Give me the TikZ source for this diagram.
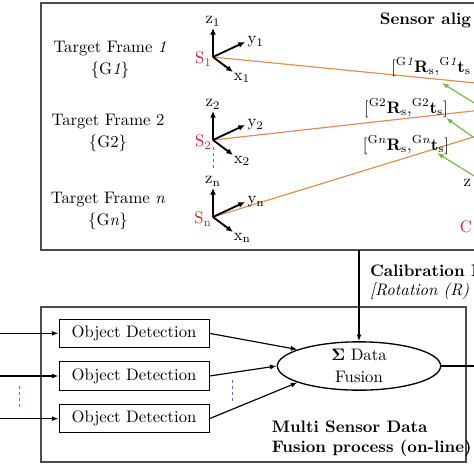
\documentclass[tikz,border=0pt]{standalone}
\usetikzlibrary{arrows.meta,shapes.geometric,matrix,positioning}
\definecolor{rayorange}{RGB}{228,140,80}
\definecolor{posegreen}{RGB}{120,180,70}
\definecolor{senred}{RGB}{205,35,55}
\definecolor{gapblue}{RGB}{80,120,190}

\begin{document}
\begin{tikzpicture}[
x=0.6pt, y=-0.6pt,
font=\fontsize{10}{13.5}\selectfont,
frame/.style={draw=black!70, line width=0.9pt},
detect/.style={
    matrix of nodes,
    nodes={draw=black, line width=0.6pt, minimum width=90pt, minimum height=17pt, inner sep=1pt, anchor=center},
    row sep=8pt,
},
fusion/.style={ellipse, draw=black, line width=0.8pt, minimum width=98pt, minimum height=29pt, inner sep=0pt, align=center},
axis/.style={-{Latex[length=4pt,width=3.5pt]}, line width=1.1pt},
feed/.style={-{Latex[length=4pt,width=3pt]}, line width=0.7pt},
ray/.style={rayorange, line width=0.7pt},
pose/.style={posegreen, line width=0.7pt, -{Latex[length=4pt,width=3pt]}},
gap/.style={gapblue, line width=0.6pt, dash pattern=on 2pt off 1.5pt},
]
\useasboundingbox (0,0) rectangle (474,474);
\clip (0,0) rectangle (474,474);

\draw[frame] (41,3) rectangle (520,250);
\draw[frame] (41,307) rectangle (466,462);

\node[align=center] (tf1) at (110,60) {Target Frame \textit{1}\\\{G\textit{1}\}};
\node[align=center] (tf2) at (108,133) {Target Frame 2\\\{G2\}};
\node[align=center] (tfn) at (108,211) {Target Frame \textit{n}\\\{G\textit{n}\}};

\coordinate (cam) at (607,96);
\foreach \k/\yy in {1/57,2/140,n/217}{
  \coordinate (s\k) at (213,\yy);
  \draw[ray] (s\k) -- (cam);
  \draw[axis] (s\k) -- ++(0,-29) node[above, inner sep=0.5pt] {z$_{\mathrm{\k}}$};
  \draw[axis] (s\k) -- ++(32,-15) node[right, inner sep=1pt] {y$_{\mathrm{\k}}$};
  \draw[axis] (s\k) -- ++(20,15) node[below right, inner sep=0pt] {x$_{\mathrm{\k}}$};
  \node[senred, anchor=east, inner sep=0.5pt] at ([shift={(0,2)}]s\k) {S$_{\mathrm{\k}}$};
}
\draw[gap] (213,147) -- (213,170);

\coordinate (pose1) at (500,119);
\coordinate (pose2) at (500,156);
\coordinate (posen) at (500,192);
\draw[pose] (pose1) -- (442,83);
\draw[pose] (pose2) -- (446,118);
\draw[pose] (posen) -- (437,153);

\node[anchor=east, font=\bfseries, inner sep=1pt] (align) at (473,20) {Sensor alig};
\node[anchor=east, inner sep=1pt] (b1) at (473,67) {[\textsuperscript{G\textit{1}}\textbf{R}\textsubscript{s},\textsuperscript{G\textit{1}}\textbf{t}\textsubscript{s}};
\node (b2) at (406,108) {[\textsuperscript{G2}\textbf{R}\textsubscript{s},\textsuperscript{G2}\textbf{t}\textsubscript{s}]};
\node (bn) at (406,145) {[\textsuperscript{G\textit{n}}\textbf{R}\textsubscript{s},\textsuperscript{G\textit{n}}\textbf{t}\textsubscript{s}]};
\node[anchor=east, inner sep=1pt] (camz) at (473,183) {z};
\node[senred] (camc) at (466,227) {C};

\node[anchor=west, font=\bfseries, inner sep=1pt] (calp) at (368,271) {Calibration P};
\node[anchor=west, font=\itshape, inner sep=1pt] (rot) at (368,291) {[Rotation (R)};

\matrix[detect] (det) at (134,376) {
  Object Detection \\
  Object Detection \\
  Object Detection \\
};
\node[fusion] (fus) at (359,366) {$\mathbf{\Sigma}$ Data\\Fusion};

\coordinate (edge) at (-5,0);
\foreach \r in {1,2,3}
  \draw[feed] (edge |- det-\r-1.west) -- (det-\r-1.west);
\draw[feed] (det-1-1.east) -- (fus.165);
\draw[feed] (det-2-1.east) -- (fus.west);
\draw[feed] (det-3-1.east) -- (fus.195);

\coordinate (calib) at (359,250);
\draw[feed] (calib) -- (fus.north);
\coordinate (out) at (480,366);
\draw[line width=0.7pt] (fus.east) -- (out);

\draw[gap] (19,386) -- (19,409);
\draw[gap] (232,380) -- (232,403);

\node[anchor=west, align=left, font=\bfseries] (msdf) at (266,439) {Multi Sensor Data\\Fusion process (on-line)};

\end{tikzpicture}
\end{document}
